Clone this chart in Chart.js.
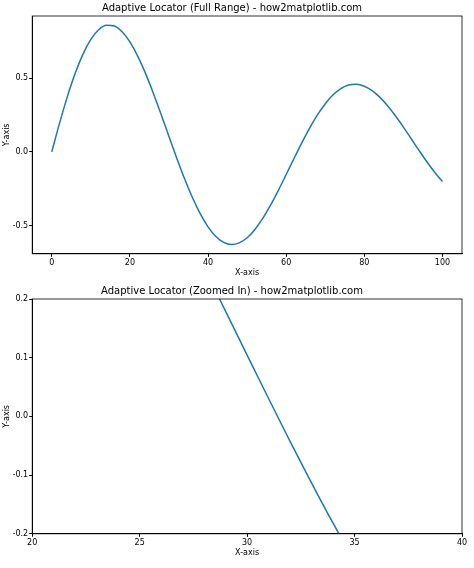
<!DOCTYPE html>
<html><head><meta charset="utf-8">
<script src="https://cdn.jsdelivr.net/npm/chart.js@4/dist/chart.umd.min.js"></script>
<style>body{margin:0;background:#fff}.c{position:absolute;left:0;width:474px}</style>
</head><body>
<div class="c" style="top:0;height:284px"><canvas id="a"></canvas></div>
<div class="c" style="top:282px;height:278px"><canvas id="b"></canvas></div>
<script>
const xValues=[0,2,4,6,8,10,12,14,16,18,20,22,24,26,28,30,32,34,36,38,40,42,44,46,48,50,52,54,56,58,60,62,64,66,68,70,72,74,76,78,80,82,84,86,88,90,92,94,96,98,100];
const yValues=[0,0.1947,0.3742,0.5318,0.6622,0.7614,0.8266,0.8567,0.8518,0.8134,0.7445,0.6488,0.5313,0.3975,0.2532,0.1045,-0.0424,-0.1819,-0.3087,-0.4185,-0.5073,-0.5726,-0.6128,-0.6273,-0.6164,-0.5816,-0.5252,-0.4503,-0.3606,-0.2601,-0.1533,-0.0447,0.0614,0.1610,0.2503,0.3263,0.3864,0.4288,0.4527,0.4577,0.4445,0.4143,0.3689,0.3108,0.2426,0.1676,0.0888,0.0097,-0.0667,-0.1375,-0.2001];
const topXTicks=[0,20,40,60,80,100];
const topYTicks=[-0.5,0,0.5];
const botXTicks=[20,25,30,35,40];
const botYTicks=[-0.2,-0.1,0,0.1,0.2];
const pts=xValues.map((x,i)=>({x,y:yValues[i]}));
Chart.defaults.font.family="'DejaVu Sans', sans-serif";
Chart.defaults.font.size=9;
Chart.defaults.color="#000";
const box={id:'box',afterDraw(c){const a=c.chartArea,g=c.ctx;g.save();g.strokeStyle='#000';g.lineWidth=0.8;g.strokeRect(a.left,a.top,a.right-a.left,a.bottom-a.top);g.restore();}};
function mk(id,title,xr,yr,xt,yt,xf,yf,pad){
 const ax=(r,t,f,lbl)=>({type:'linear',min:r[0],max:r[1],
  afterBuildTicks:s=>{s.ticks=t.map(v=>({value:v}));},
  ticks:{callback:v=>f(v),autoSkip:false,maxRotation:0,padding:1,font:{size:8}},
  grid:{drawOnChartArea:false,tickLength:3,color:'#000'},border:{color:'#000'},
  title:{display:true,text:lbl,font:{size:8},padding:0}});
 new Chart(document.getElementById(id),{type:'line',
  data:{datasets:[{data:pts,borderColor:'#1f77b4',borderWidth:1.5,pointRadius:0,cubicInterpolationMode:'monotone',fill:false}]},
  options:{responsive:true,maintainAspectRatio:false,animation:false,
   layout:{padding:pad},
   plugins:{legend:{display:false},tooltip:{enabled:false},
    title:{display:true,text:title,font:{size:10,weight:'normal'},padding:{top:0,bottom:2}}},
   scales:{x:ax(xr,xt,xf,'X-axis'),y:ax(yr,yt,yf,'Y-axis')}},
  plugins:[box]});
}
mk('a','Adaptive Locator (Full Range) - how2matplotlib.com',[-5,105],[-0.69,0.92],topXTicks,topYTicks,v=>String(v),v=>v.toFixed(1),{top:2,right:12,left:2,bottom:6});
mk('b','Adaptive Locator (Zoomed In) - how2matplotlib.com',[20,40],[-0.2,0.2],botXTicks,botYTicks,v=>String(v),v=>v.toFixed(1),{top:3,right:12,left:2,bottom:2});
</script>
</body></html>
